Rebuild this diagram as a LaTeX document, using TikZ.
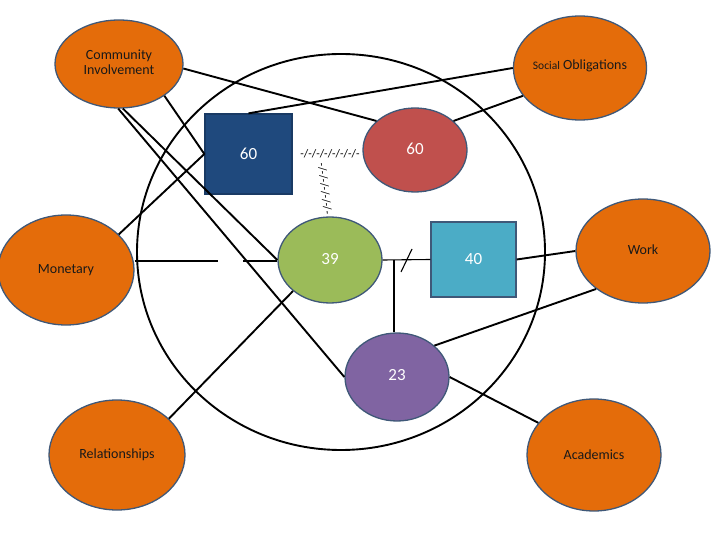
\documentclass[tikz,border=0pt]{standalone}
\usepackage{fontspec}
\setmainfont{Carlito}
\usetikzlibrary{shapes.geometric}
\definecolor{orangefill}{HTML}{E46C0A}
\definecolor{shapeline}{HTML}{3F5878}
\definecolor{navyfill}{HTML}{1F497D}
\definecolor{redfill}{HTML}{C0504D}
\definecolor{greenfill}{HTML}{9BBB59}
\definecolor{cyanfill}{HTML}{4BACC6}
\definecolor{purplefill}{HTML}{8064A2}
\tikzset{
  topic/.style={ellipse, draw=shapeline, line width=1.3bp, fill=orangefill, inner sep=0pt,
    font=\fontsize{14bp}{17bp}\selectfont, text=black!90, align=center},
  inner/.style={draw=shapeline, line width=1.3bp, inner sep=0pt, text=white,
    font=\fontsize{17bp}{20bp}\selectfont},
  innerell/.style={inner, ellipse, minimum width=104bp},
  innersq/.style={inner, rectangle},
  link/.style={draw=black, line width=1.9bp},
  thin/.style={draw=black, line width=1.1bp},
  hashtext/.style={font=\fontsize{11.5bp}{13bp}\selectfont, inner sep=0pt, text=black}
}
\begin{document}
\begin{tikzpicture}[x=1bp, y=-1bp]
\useasboundingbox (0,0) rectangle (728,546);
\fill[white] (0,0) rectangle (728,546);
% big circle
\node[ellipse, draw=black, line width=1.9bp, minimum width=408bp, minimum height=396bp, inner sep=0pt] (big) at (341,252) {};
% outer topics
\node[topic, minimum width=128bp, minimum height=88bp] (comm) at (119,64) {\raisebox{6bp}{\begin{tabular}{@{}c@{}}Community\\[-2bp]Involvement\end{tabular}}};
\node[topic, minimum width=128bp, minimum height=104bp] (social) at (580,68) {\raisebox{6bp}{{\fontsize{11.5bp}{14bp}\selectfont Social} Obligations}};
\node[topic, minimum width=134bp, minimum height=104bp] (work) at (643,251) {\raisebox{3bp}{Work}};
\node[topic, minimum width=136bp, minimum height=110bp] (money) at (66,270) {Monetary};
\node[topic, minimum width=136bp, minimum height=110bp] (rel) at (117,455) {Relationships};
\node[topic, minimum width=134bp, minimum height=112bp] (acad) at (594,455) {Academics};
% inner shapes
\node[innersq, fill=navyfill, draw=navyfill!80!black, minimum width=87bp, minimum height=80bp] (sq) at (248.5,154) {60};
\node[innerell, fill=redfill, minimum height=84bp] (red) at (415,150) {\raisebox{2bp}{60}};
\node[innerell, fill=greenfill, minimum height=86bp] (grn) at (330,260) {\raisebox{3bp}{39}};
\node[innersq, fill=cyanfill, minimum width=85bp, minimum height=75bp] (cyn) at (473.5,259.5) {\raisebox{2bp}{40}};
\node[innerell, fill=purplefill, minimum height=88bp] (pur) at (397,377) {\raisebox{4bp}{23}};
% hash texts
\node[hashtext] (hh) at (330,154) {-/-/-/-/-/-/-/-};
\node[hashtext, rotate=-83] (hv) at (325,189) {-/-/-/-/-/-/-};
% coordinates
\coordinate (gapA) at (218,261);
\coordinate (gapB) at (243,261);
\coordinate (junc) at (394,260);
\coordinate (slA) at (401,272);
\coordinate (slB) at (412,249);
% connectors
\draw[link] (comm.-4) -- (red.143);
\draw[link] (comm.-35) -- (sq.west);
\draw[link] (money.34) -- (sq.west);
\draw[link] (comm.-85) -- (grn.west);
\draw[link] (comm.-91) -- (pur.west);
\draw[link] (social.west) -- (sq.north);
\draw[link] (social.206) -- (red.37);
\draw[link] (money.east |- gapA) -- (gapA);
\draw[link] (gapB) -- (grn.west |- gapB);
\draw[link] (rel.35) -- (grn.220);
\draw[thin] (grn.east) -- (cyn.west);
\draw[thin] (junc) -- (junc |- pur.north);
\draw[thin] (slA) -- (slB);
\draw[link] (work.west) -- (cyn.east);
\draw[link] (work.219) -- (pur.40);
\draw[link] (acad.150) -- (pur.east);
\end{tikzpicture}
\end{document}
